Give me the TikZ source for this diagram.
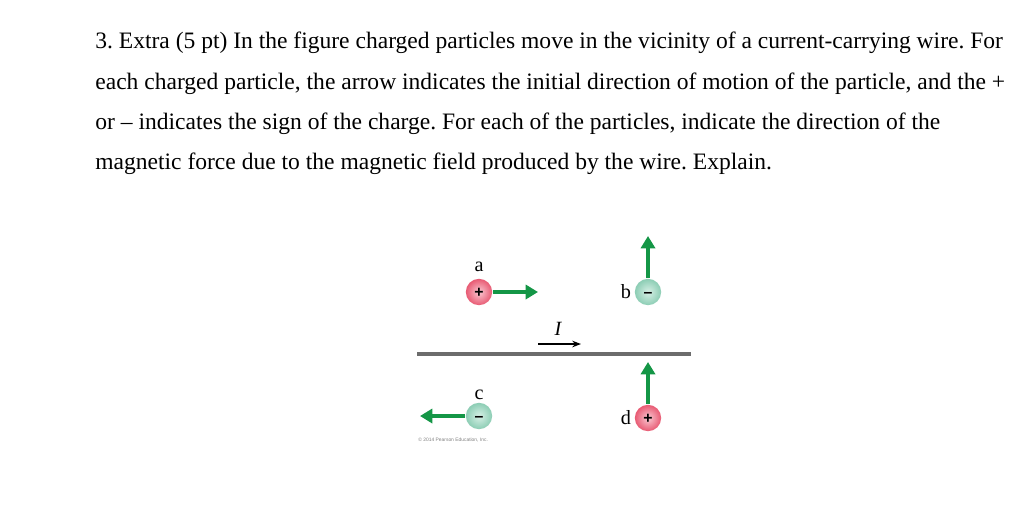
\documentclass[tikz,border=0pt]{standalone}
\usepackage{fontspec}
\setmainfont{Liberation Serif}
\newfontfamily\lsans{Liberation Sans}
\usetikzlibrary{arrows.meta}
\definecolor{grn}{RGB}{20,150,70}
\definecolor{pos}{RGB}{232,90,115}
\definecolor{posin}{RGB}{250,200,210}
\definecolor{negc}{RGB}{140,205,180}
\definecolor{negin}{RGB}{215,240,230}
\frenchspacing
\tikzset{
 txt/.style={anchor=base west,inner sep=0,font=\fontsize{13.4pt}{15pt}\selectfont},
 vel/.style={draw=grn,line width=2.3pt,-{Triangle[length=7pt,width=8pt]}},
 chg/.style={circle,minimum size=15pt,inner sep=0,text height=6.6pt,text depth=0pt,font=\lsans\bfseries\small},
 ppos/.style={chg,inner color=posin,outer color=pos},
 pneg/.style={chg,inner color=negin,outer color=negc},
 lab/.style={inner sep=0,font=\fontsize{11.5pt}{13pt}\selectfont}
}
\begin{document}
\begin{tikzpicture}[x=0.02cm,y=-0.02cm]
\useasboundingbox[fill=white] (0,0) rectangle (1024,512);
\node[txt] (l1) at (95,48) {3. Extra (5 pt) In the figure charged particles move in the vicinity of a current-carrying wire. For};
\node[txt] (l2) at (95,89) {each charged particle, the arrow indicates the initial direction of motion of the particle, and the +};
\node[txt] (l3) at (95,129) {or -- indicates the sign of the charge. For each of the particles, indicate the direction of the};
\node[txt] (l4) at (95,169) {magnetic force due to the magnetic field produced by the wire. Explain.};
% wire
\coordinate (w1) at (417,354); \coordinate (w2) at (691,354);
\draw[line width=2.2pt,gray!85!black] (w1) -- (w2);
\coordinate (i1) at (538,344); \coordinate (i2) at (581,344);
\draw[-{Stealth[length=5pt]},line width=0.7pt] (i1) -- (i2);
\node[lab,font=\itshape\fontsize{11.5pt}{13pt}\selectfont] (I) at (558,329) {I};
% a
\node[ppos] (a) at (479,292) {+};
\node[lab] (la) at (479,267) {a};
\coordinate (ae) at (538,292);
\draw[vel] (a.east) -- (ae);
% b
\node[pneg] (b) at (648,292) {\textendash};
\node[lab] (lb) at (626,292) {b};
\coordinate (be) at (648,236);
\draw[vel] (b.north) -- (be);
% c
\node[pneg] (c) at (479,416) {\textendash};
\node[lab] (lc) at (479,395) {c};
\coordinate (ce) at (420,416);
\draw[vel] (c.west) -- (ce);
% d
\node[ppos] (d) at (648,418) {+};
\node[lab] (ld) at (626,418) {d};
\coordinate (de) at (648,362);
\draw[vel] (d.north) -- (de);
\node[inner sep=0,anchor=west,font=\lsans\fontsize{2.8pt}{3pt}\selectfont,gray] (cp) at (418,440) {\textcopyright\ 2014 Pearson Education, Inc.};
\end{tikzpicture}
\end{document}
